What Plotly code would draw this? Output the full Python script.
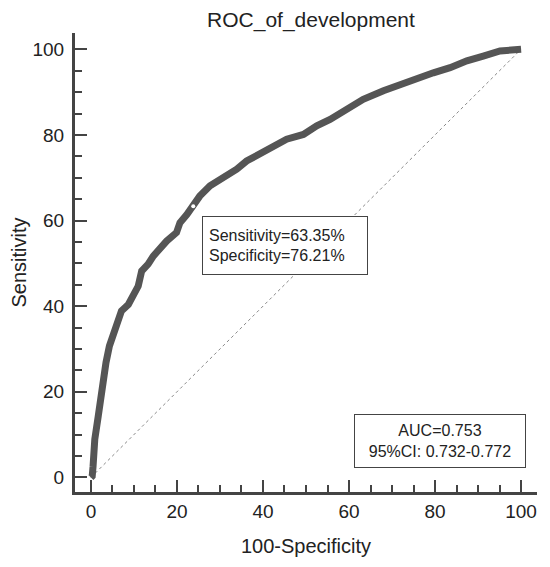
import plotly.graph_objects as go

# ROC curve points (100-specificity, sensitivity)
fpr = [0, 0.3, 0.5, 0.9, 1.7, 2.2, 2.9, 3.5, 4.3, 5.2, 6.1, 7.1, 8.7, 9.8, 11.0,
       11.8, 13.3, 14.5, 16.0, 17.6, 19.9, 20.7, 22.3, 23.8, 25.3, 27.7, 30.8,
       33.9, 36.2, 39.3, 42.4, 45.5, 49.4, 52.5, 55.6, 58.7, 61.0, 63.3, 68.0,
       71.9, 75.7, 79.6, 83.5, 87.4, 91.2, 95.1, 100]
tpr = [0, 0.3, 2.6, 8.9, 14.3, 18.2, 22.9, 26.8, 30.7, 33.8, 36.9, 38.9, 40.4,
       42.4, 44.7, 48.2, 49.8, 51.7, 53.7, 55.2, 57.2, 59.5, 61.4, 63.6, 65.7,
       68.1, 70.0, 72.0, 73.9, 75.5, 77.4, 79.0, 80.1, 82.1, 83.6, 85.6, 87.0,
       88.3, 90.3, 91.8, 93.0, 94.5, 95.7, 97.3, 98.4, 99.6, 100]

cutoff_x = [100 - 76.21]
cutoff_y = [63.35]

ref_x = [0, 100]
ref_y = [0, 100]

fig = go.Figure()

fig.add_trace(go.Scatter(x=ref_x, y=ref_y, mode='lines',
                         line=dict(color='#8a8a8a', width=1, dash='dot'),
                         showlegend=False))
fig.add_trace(go.Scatter(x=fpr, y=tpr, mode='lines',
                         line=dict(color='#555555', width=7),
                         showlegend=False))
fig.add_trace(go.Scatter(x=cutoff_x, y=cutoff_y, mode='markers',
                         marker=dict(color='white', size=4),
                         showlegend=False))

axis_common = dict(
    showgrid=False, zeroline=False, automargin=False,
    showline=True, linewidth=3, linecolor='#444444',
    ticks='inside', ticklen=12, tickwidth=2, tickcolor='#444444',
    dtick=20, tick0=0,
    minor=dict(dtick=5, ticks='inside', ticklen=7, tickwidth=2, tickcolor='#444444'),
    tickfont=dict(size=19, color='#222222'),
)

# page body has an 8px margin, so the figure is a bit smaller than the window
fig.update_layout(
    width=542, height=559,
    margin=dict(l=67, r=13, t=25, b=75),
    plot_bgcolor='white', paper_bgcolor='white',
    font=dict(family='Liberation Sans, Arial, sans-serif', color='#222222'),
    title=dict(text='ROC_of_development', x=0.559, xanchor='center',
               y=0.992, yanchor='top', font=dict(size=21)),
    xaxis=dict(axis_common, range=[-3.7, 103.7],
               title=dict(text='100-Specificity', font=dict(size=20), standoff=19)),
    yaxis=dict(axis_common, range=[-3.4, 103.8], ticklabelstandoff=4,
               title=dict(text='Sensitivity', font=dict(size=20), standoff=8)),
    annotations=[
        dict(x=45.1, y=54.1, xref='x', yref='y', showarrow=False,
             text='Sensitivity=63.35%<br>Specificity=76.21%', align='left',
             width=152, height=45, font=dict(size=16, color='#222222'),
             bordercolor='#444444', borderwidth=1, borderpad=6, bgcolor='white'),
        dict(x=81.2, y=8.6, xref='x', yref='y', showarrow=False,
             text='AUC=0.753<br>95%CI: 0.732-0.772', align='center',
             width=160, height=42, font=dict(size=16, color='#222222'),
             bordercolor='#444444', borderwidth=1, borderpad=5, bgcolor='white'),
    ],
)

fig.write_html("out.html")
